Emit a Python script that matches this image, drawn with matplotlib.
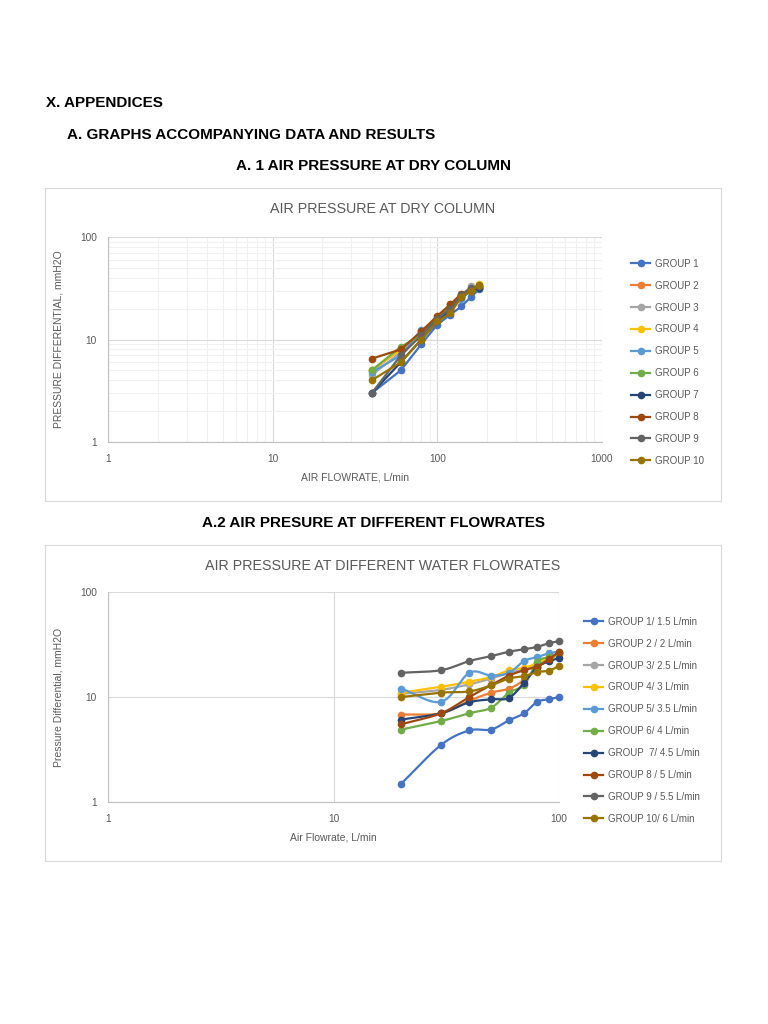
import numpy as np
import matplotlib
matplotlib.use("Agg")
import matplotlib.pyplot as plt
from matplotlib.patches import Rectangle
from matplotlib.ticker import FixedLocator, NullFormatter, LogLocator

# ---- data: dry column ----
dry_flow = [40, 60, 80, 100, 120, 140, 160, 180]
dry_g1 = [3, 5, 9, 14, 17.5, 21, 26, 31]
dry_g2 = [5, 8, 11, 16, 20, 26, 30, 33]
dry_g3 = [4.5, 7.5, 12, 16, 21, 27, 33, 33]
dry_g4 = [5, 8, 11, 16, 21, 27, 31, 35]
dry_g5 = [4.8, 7, 12.5, 15, 20, 25, 30, 32]
dry_g6 = [5, 8.5, 11, 16, 22, 27, 30, 32]
dry_g7 = [3, 6, 10, 15, 19, 26, 30, 32]
dry_g8 = [6.5, 8, 12, 17, 22, 28, 30, 33]
dry_g9 = [3, 7, 11, 16, 20, 27, 32, 33]
dry_g10 = [4, 6, 10, 15, 18, 26, 30, 34]
dry_labels = ["GROUP 1", "GROUP 2", "GROUP 3", "GROUP 4", "GROUP 5",
              "GROUP 6", "GROUP 7", "GROUP 8", "GROUP 9", "GROUP 10"]

# ---- data: different water flowrates ----
wet_flow = [20, 30, 40, 50, 60, 70, 80, 90, 100]
wet_g1 = [1.5, 3.5, 4.8, 4.9, 6, 7, 9, 9.5, 10]
wet_g2 = [6.8, 7, 9.2, 11, 12, 14.5, 19, 22.5, 26]
wet_g3 = [10.7, 11.7, 13.2, 15, 17, 18.3, 20.8, 23, 25.5]
wet_g4 = [11, 12.5, 14, 15.5, 18, 19, 21, 24, 25]
wet_g5 = [12, 9, 17, 16, 17, 22, 24, 26, 27]
wet_g6 = [4.9, 5.9, 7, 7.9, 11, 13, 21.5, 24, 26]
wet_g7 = [6.1, 7, 8.9, 9.5, 9.8, 13.7, 19.3, 21.8, 23.6]
wet_g8 = [5.5, 7, 10, 13, 16, 18, 19.5, 22.8, 27]
wet_g9 = [17, 18, 22, 24.5, 27, 28.5, 30, 32.5, 34]
wet_g10 = [10, 11, 11.3, 12.9, 15, 15.8, 17.3, 17.8, 19.7]
wet_labels = ["GROUP 1/ 1.5 L/min", "GROUP 2 / 2 L/min", "GROUP 3/ 2.5 L/min",
              "GROUP 4/ 3 L/min", "GROUP 5/ 3.5 L/min", "GROUP 6/ 4 L/min",
              "GROUP  7/ 4.5 L/min", "GROUP 8 / 5 L/min", "GROUP 9 / 5.5 L/min",
              "GROUP 10/ 6 L/min"]

# excel office palette
colors = ["#4472C4", "#ED7D31", "#A5A5A5", "#FFC000", "#5B9BD5",
          "#70AD47", "#264478", "#9E480E", "#636363", "#997300"]

plt.rcParams["font.family"] = ["Liberation Sans Narrow", "Liberation Sans", "DejaVu Sans"]

W, H = 768, 1024
fig = plt.figure(figsize=(W / 100, H / 100), dpi=100)
fig.patch.set_facecolor("white")


def fx(px):
    return px / W


def fy(py):
    return 1 - py / H


def add_ax(x0, y0, x1, y1):
    return fig.add_axes([fx(x0), fy(y1), (x1 - x0) / W, (y1 - y0) / H])


def smooth(xs, ys, n=16):
    # catmull-rom through the points in log space (like excel "smoothed line")
    lx = np.log10(xs); ly = np.log10(ys)
    px = np.concatenate([[2 * lx[0] - lx[1]], lx, [2 * lx[-1] - lx[-2]]])
    py = np.concatenate([[2 * ly[0] - ly[1]], ly, [2 * ly[-1] - ly[-2]]])
    outx, outy = [], []
    t = np.linspace(0, 1, n, endpoint=False)
    for i in range(1, len(px) - 2):
        for p, out in ((px, outx), (py, outy)):
            p0, p1, p2, p3 = p[i - 1], p[i], p[i + 1], p[i + 2]
            out.extend(0.5 * ((2 * p1) + (-p0 + p2) * t
                              + (2 * p0 - 5 * p1 + 4 * p2 - p3) * t ** 2
                              + (-p0 + 3 * p1 - 3 * p2 + p3) * t ** 3))
    outx.append(lx[-1]); outy.append(ly[-1])
    return 10 ** np.array(outx), 10 ** np.array(outy)


def style_axes(ax, xmax, minor_grid):
    ax.set_xscale("log"); ax.set_yscale("log")
    ax.set_xlim(1, xmax); ax.set_ylim(1, 100)
    xt = [1, 10, 100, 1000][: int(np.log10(xmax)) + 1]
    ax.xaxis.set_major_locator(FixedLocator(xt))
    ax.set_xticklabels([str(v) for v in xt])
    ax.yaxis.set_major_locator(FixedLocator([1, 10, 100]))
    ax.set_yticklabels(["1", "10", "100"])
    ax.xaxis.set_minor_locator(LogLocator(subs=np.arange(2, 10)))
    ax.yaxis.set_minor_locator(LogLocator(subs=np.arange(2, 10)))
    ax.xaxis.set_minor_formatter(NullFormatter())
    ax.yaxis.set_minor_formatter(NullFormatter())
    ax.tick_params(which="both", length=0, labelsize=7.3, colors="#595959")
    ax.tick_params(axis="x", pad=9)
    ax.tick_params(axis="y", pad=8)
    ax.grid(True, which="major", color="#d9d9d9", lw=0.8)
    if minor_grid:
        ax.grid(True, which="minor", color="#f0f0f0", lw=0.8)
    for s in ("top", "right"):
        ax.spines[s].set_visible(False)
    for s in ("left", "bottom"):
        ax.spines[s].set_color("#bfbfbf")
        ax.spines[s].set_linewidth(0.8)
    ax.set_axisbelow(True)


# ---- headings ----
head = dict(fontweight="bold", fontsize=11, family=["Liberation Sans", "DejaVu Sans"], color="black")
fig.text(fx(46), fy(103), "X. APPENDICES", va="center", ha="left", **head)
fig.text(fx(67), fy(135), "A. GRAPHS ACCOMPANYING DATA AND RESULTS", va="center", ha="left", **head)
fig.text(fx(373), fy(166), "A. 1 AIR PRESSURE AT DRY COLUMN", va="center", ha="center", **head)
fig.text(fx(373), fy(523), "A.2 AIR PRESURE AT DIFFERENT FLOWRATES", va="center", ha="center", **head)

# ---- chart 1 ----
fig.patches.append(Rectangle((fx(45), fy(501)), (721 - 45) / W, (501 - 188) / H,
                             transform=fig.transFigure, fill=False, ec="#d9d9d9", lw=0.8))
fig.text(fx(383), fy(209), "AIR PRESSURE AT DRY COLUMN", ha="center", va="center",
         fontsize=10.3, color="#595959")
ax1 = add_ax(108, 237, 602, 442)
style_axes(ax1, 1000, True)
dry_series = [dry_g1, dry_g2, dry_g3, dry_g4, dry_g5, dry_g6, dry_g7, dry_g8, dry_g9, dry_g10]
handles1 = []
for vals, c, lab in zip(dry_series, colors, dry_labels):
    h, = ax1.plot(dry_flow, vals, color=c, lw=1.6, marker="o", ms=4.5, label=lab)
    handles1.append(h)
ax1.set_ylabel("PRESSURE DIFFERENTIAL, mmH2O", fontsize=7.5, color="#595959", labelpad=12)
ax1.set_xlabel("AIR FLOWRATE, L/min", fontsize=7.5, color="#595959", labelpad=6)
fig.legend(handles=handles1, loc="upper left", bbox_to_anchor=(fx(627), fy(255)),
           frameon=False, fontsize=7, labelspacing=1.22, handlelength=2.0,
           handletextpad=0.5, labelcolor="#595959", borderaxespad=0)

# ---- chart 2 ----
fig.patches.append(Rectangle((fx(45), fy(861)), (721 - 45) / W, (861 - 545) / H,
                             transform=fig.transFigure, fill=False, ec="#d9d9d9", lw=0.8))
fig.text(fx(383), fy(566), "AIR PRESSURE AT DIFFERENT WATER FLOWRATES", ha="center", va="center",
         fontsize=10.3, color="#595959")
ax2 = add_ax(108, 592, 559, 802)
style_axes(ax2, 100, False)
wet_series = [wet_g1, wet_g2, wet_g3, wet_g4, wet_g5, wet_g6, wet_g7, wet_g8, wet_g9, wet_g10]
handles2 = []
for vals, c, lab in zip(wet_series, colors, wet_labels):
    sx, sy = smooth(wet_flow, vals)
    ax2.plot(sx, sy, color=c, lw=1.6, clip_on=False)
    ax2.plot(wet_flow, vals, ls="none", color=c, marker="o", ms=4.5, clip_on=False)
    h, = ax2.plot([], [], color=c, lw=1.6, marker="o", ms=4.5, label=lab)
    handles2.append(h)
ax2.set_ylabel("Pressure Differential, mmH2O", fontsize=7.5, color="#595959", labelpad=12)
ax2.set_xlabel("Air Flowrate, L/min", fontsize=7.5, color="#595959", labelpad=6)
fig.legend(handles=handles2, loc="upper left", bbox_to_anchor=(fx(580), fy(613)),
           frameon=False, fontsize=7, labelspacing=1.22, handlelength=2.0,
           handletextpad=0.5, labelcolor="#595959", borderaxespad=0)

fig.savefig("out.png", dpi=100, facecolor="white")
